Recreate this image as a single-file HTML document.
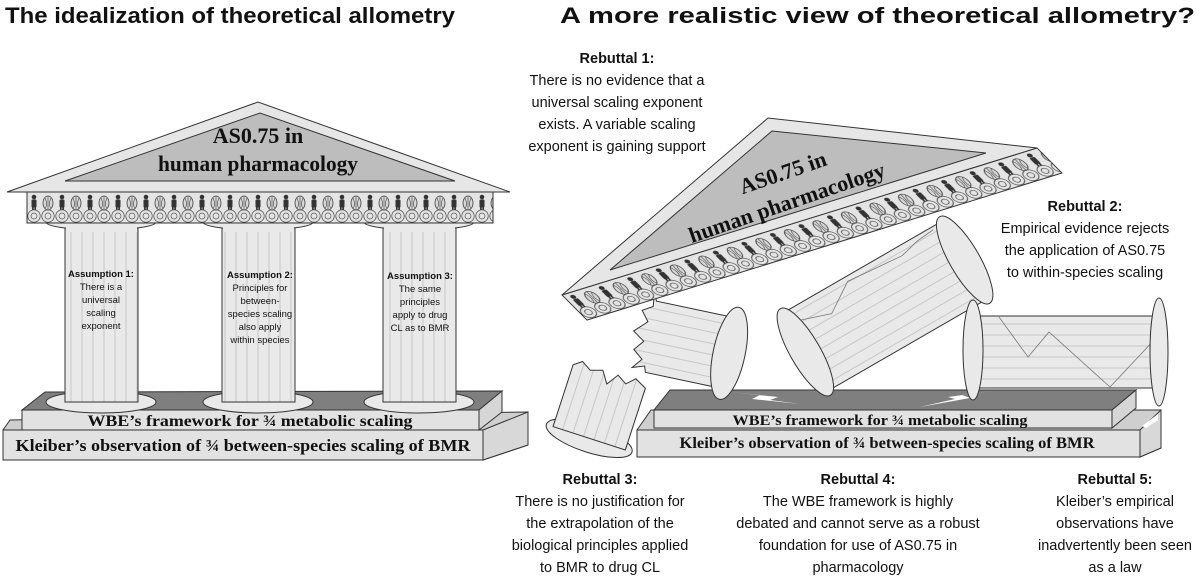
<!DOCTYPE html>
<html><head><meta charset="utf-8"><style>
html,body{margin:0;padding:0;background:#fff;}
svg{display:block;}
.t{font-family:"Liberation Sans",sans-serif;fill:#111;}
.s{font-family:"Liberation Serif",serif;font-weight:bold;fill:#111;}
</style></head><body>
<svg width="1200" height="576" viewBox="0 0 1200 576" xmlns="http://www.w3.org/2000/svg">
<defs>
<pattern id="fr" x="0" y="0" width="28" height="31" patternUnits="userSpaceOnUse">
<rect width="28" height="31" fill="#e4e4e4"/>
<circle cx="7" cy="24" r="6.2" fill="none" stroke="#555" stroke-width="0.8"/>
<circle cx="7" cy="24" r="3" fill="none" stroke="#555" stroke-width="0.7"/>
<circle cx="21" cy="24" r="6.2" fill="none" stroke="#555" stroke-width="0.8"/>
<circle cx="21" cy="24" r="3" fill="none" stroke="#555" stroke-width="0.7"/>
<circle cx="7" cy="5" r="2.3" fill="#333"/>
<rect x="4.5" y="7.5" width="5" height="8" rx="1" fill="#333"/>
<rect x="5" y="14" width="1.6" height="4" fill="#333"/><rect x="7.4" y="14" width="1.6" height="4" fill="#333"/>
<ellipse cx="21" cy="11" rx="5" ry="7" fill="#d8d8d8" stroke="#444" stroke-width="0.8"/>
<path d="M21 4 V18 M18 6 Q21 12 18 17 M24 6 Q21 12 24 17" stroke="#444" stroke-width="0.6" fill="none"/>
</pattern>
<pattern id="flute" x="0" y="0" width="11" height="10" patternUnits="userSpaceOnUse">
<rect width="11" height="10" fill="#e9e9e9"/><line x1="5" y1="0" x2="5" y2="10" stroke="#b8b8b8" stroke-width="0.7"/>
</pattern>
<pattern id="hflute" x="0" y="0" width="10" height="11" patternUnits="userSpaceOnUse">
<rect width="10" height="11" fill="#e9e9e9"/><line x1="0" y1="5" x2="10" y2="5" stroke="#b8b8b8" stroke-width="0.7"/>
</pattern>
</defs>

<!-- Titles -->
<text class="t" x="5" y="23" font-size="22" font-weight="bold" textLength="450" lengthAdjust="spacingAndGlyphs">The idealization of theoretical allometry</text>
<text class="t" x="560" y="23" font-size="22" font-weight="bold" textLength="635" lengthAdjust="spacingAndGlyphs">A more realistic view of theoretical allometry?</text>

<!-- LEFT TEMPLE -->
<!-- Kleiber slab -->
<polygon points="10,420 528,412 528,445 483,460 3,460 3,430" fill="#cfcfcf" stroke="#333" stroke-width="1"/>
<polygon points="483,430 528,412 528,445 483,460" fill="#d8d8d8" stroke="#333"/>
<rect x="3" y="430" width="480" height="30" fill="#e2e2e2" stroke="#333"/>
<text class="s" x="243" y="451" font-size="16.5" text-anchor="middle" textLength="455" lengthAdjust="spacingAndGlyphs">Kleiber’s observation of  ¾ between-species scaling of  BMR</text>
<!-- WBE slab -->
<polygon points="45,392 502,391 479,410 22,410" fill="#7f7f7f" stroke="#333"/>
<polygon points="479,410 502,391 502,412 479,430" fill="#d6d6d6" stroke="#333"/>
<rect x="22" y="410" width="457" height="20" fill="#e2e2e2" stroke="#333"/>
<text class="s" x="250" y="426" font-size="16" text-anchor="middle" textLength="325" lengthAdjust="spacingAndGlyphs">WBE’s framework for ¾ metabolic scaling</text>
<!-- Columns -->
<g stroke="#333" stroke-width="1">
<ellipse cx="101" cy="402" rx="55" ry="11" fill="#e9e9e9"/>
<rect x="65" y="218" width="73" height="184" fill="url(#flute)"/>
<ellipse cx="258" cy="402" rx="55" ry="11" fill="#e9e9e9"/>
<rect x="222" y="218" width="73" height="184" fill="url(#flute)"/>
<ellipse cx="419" cy="402" rx="55" ry="11" fill="#e9e9e9"/>
<rect x="383" y="218" width="73" height="184" fill="url(#flute)"/>
</g>
<ellipse cx="101" cy="222" rx="55" ry="8" fill="#e9e9e9" stroke="#333"/>
<ellipse cx="258" cy="222" rx="55" ry="8" fill="#e9e9e9" stroke="#333"/>
<ellipse cx="419" cy="222" rx="55" ry="8" fill="#e9e9e9" stroke="#333"/>
<rect x="66" y="226" width="71" height="6" fill="#e9e9e9"/>
<rect x="223" y="226" width="71" height="6" fill="#e9e9e9"/>
<rect x="384" y="226" width="71" height="6" fill="#e9e9e9"/>
<g class="t" font-size="9.5" text-anchor="middle">
<text x="101" y="277" font-weight="bold">Assumption 1:</text>
<text x="101" y="290">There is a</text><text x="101" y="303">universal</text><text x="101" y="316">scaling</text><text x="101" y="329">exponent</text>
<text x="260" y="278" font-weight="bold">Assumption 2:</text>
<text x="260" y="291">Principles for</text><text x="260" y="304">between-</text><text x="260" y="317">species scaling</text><text x="260" y="330">also apply</text><text x="260" y="343">within species</text>
<text x="420" y="279" font-weight="bold">Assumption 3:</text>
<text x="420" y="292">The same</text><text x="420" y="305">principles</text><text x="420" y="318">apply to drug</text><text x="420" y="331">CL as to BMR</text>
</g>
<!-- Frieze -->
<g transform="translate(27,192)"><rect x="0" y="0" width="466" height="31" fill="url(#fr)" stroke="#333"/></g>
<!-- Roof -->
<polygon points="7,192 258,102 510,192" fill="#e6e6e6" stroke="#333"/>
<polygon points="65,181 260,113 455,181" fill="#bdbdbd" stroke="#333"/>
<text class="s" x="258" y="143" font-size="22" text-anchor="middle" font-weight="bold">AS0.75 in</text>
<text class="s" x="258" y="171" font-size="22" text-anchor="middle" font-weight="bold" textLength="200" lengthAdjust="spacingAndGlyphs">human pharmacology</text>

<!-- RIGHT SIDE -->
<g class="t" font-size="14.5" text-anchor="middle">
<text x="617" y="63" font-weight="bold">Rebuttal 1:</text>
<text x="617" y="85">There is no evidence that a</text>
<text x="617" y="107">universal scaling exponent</text>
<text x="617" y="129">exists. A variable scaling</text>
<text x="617" y="151">exponent is gaining support</text>
<text x="1085" y="211" font-weight="bold">Rebuttal 2:</text>
<text x="1085" y="233">Empirical evidence rejects</text>
<text x="1085" y="255">the application of AS0.75</text>
<text x="1085" y="277">to within-species scaling</text>
<text x="600" y="484" font-weight="bold">Rebuttal 3:</text>
<text x="600" y="506">There is no justification for</text>
<text x="600" y="528">the extrapolation of the</text>
<text x="600" y="550">biological principles applied</text>
<text x="600" y="572">to BMR to drug CL</text>
<text x="858" y="484" font-weight="bold">Rebuttal 4:</text>
<text x="858" y="506">The WBE framework is highly</text>
<text x="858" y="528">debated and cannot serve as a robust</text>
<text x="858" y="550">foundation for use of AS0.75 in</text>
<text x="858" y="572">pharmacology</text>
<text x="1115" y="484" font-weight="bold">Rebuttal 5:</text>
<text x="1115" y="506">Kleiber’s empirical</text>
<text x="1115" y="528">observations have</text>
<text x="1115" y="550">inadvertently been seen</text>
<text x="1115" y="572">as a law</text>
</g>

<!-- Right platform -->
<polygon points="651,410 1161,410 1161,448 1140,457 637,457 637,430" fill="#cfcfcf" stroke="#333"/>
<polygon points="1140,430 1161,410 1161,448 1140,457" fill="#d8d8d8" stroke="#333"/>
<polygon points="1142,426 1158,414 1158,420 1146,428" fill="#fff"/>
<rect x="637" y="430" width="503" height="27" fill="#e2e2e2" stroke="#333"/>
<text class="s" x="887" y="448" font-size="16" text-anchor="middle" textLength="415" lengthAdjust="spacingAndGlyphs">Kleiber’s observation of  ¾ between-species scaling of  BMR</text>
<polygon points="670,390 1136,390 1112,410 654,410" fill="#7f7f7f" stroke="#333"/>
<polygon points="1112,410 1136,390 1136,408 1112,428" fill="#d6d6d6" stroke="#333"/>
<rect x="654" y="410" width="458" height="18" fill="#e2e2e2" stroke="#333"/>
<text class="s" x="880" y="425" font-size="15" text-anchor="middle" textLength="295" lengthAdjust="spacingAndGlyphs">WBE’s framework for ¾ metabolic scaling</text>
<!-- lightning -->
<polygon points="730,392 760,395 752,399 800,404 770,400 778,397" fill="#fff"/>
<polygon points="920,407 955,399 948,397 1000,390 962,395 970,398" fill="#fff"/>

<!-- Lower broken column -->
<g transform="translate(600,405) rotate(18)" stroke="#333">
<ellipse cx="0" cy="35" rx="45" ry="14" fill="#e9e9e9"/>
<polygon points="-38,35 -38,-30 -30,-36 -20,-30 -8,-34 0,-22 8,-34 18,-28 26,-36 38,-30 38,35" fill="url(#flute)"/>
<ellipse cx="0" cy="35" rx="45" ry="14" fill="#e9e9e9" transform="" opacity="0"/>
</g>
<!-- Upper broken column -->
<g transform="translate(690,345) rotate(12)" stroke="#333">
<polygon points="40,-36 -42,-36 -46,-46 -44,-30 -54,-24 -46,-14 -58,-2 -46,6 -54,16 -44,24 -52,34 -40,30 -38,36 40,36" fill="url(#hflute)"/>
<ellipse cx="40" cy="0" rx="16" ry="47" fill="#e9e9e9"/>
</g>
<!-- Tilted middle column -->
<g transform="translate(885,306) rotate(-30)" stroke="#333">
<rect x="-92" y="-45" width="184" height="90" fill="url(#hflute)"/>
<ellipse cx="-92" cy="0" rx="15" ry="50" fill="#e9e9e9"/>
<polyline points="-80,-30 -50,-20 -20,-40 40,-35 60,-40 80,-42" fill="none" stroke="#777" stroke-width="0.8"/>
<ellipse cx="92" cy="0" rx="15" ry="50" fill="#e9e9e9"/>
</g>
<!-- Horizontal right column -->
<g stroke="#333">
<rect x="975" y="316" width="184" height="72" fill="url(#hflute)"/>
<polyline points="999,317 1028,357 1049,332 1110,387 1157,337" fill="none" stroke="#777" stroke-width="0.8"/>
<ellipse cx="973" cy="350" rx="10" ry="50" fill="#e9e9e9"/>
<ellipse cx="1159" cy="352" rx="9" ry="54" fill="#e9e9e9"/>
</g>

<!-- Right tilted roof -->
<g transform="matrix(1.0193,-0.3155,0.8065,0.8065,562,295)">
<rect x="0" y="0" width="466" height="31" fill="url(#fr)" stroke="#333" stroke-width="1"/>
</g>
<polygon points="562,295 768,118 1037,148" fill="#e6e6e6" stroke="#333"/>
<polygon points="610,270 772,131 986,153" fill="#bdbdbd" stroke="#333"/>
<text class="s" x="783" y="180" font-size="22" text-anchor="middle" transform="rotate(-19 783 173)">AS0.75 in</text>
<text class="s" x="787" y="210" font-size="22" text-anchor="middle" transform="rotate(-19 787 203)">human pharmacology</text>
</svg>
</body></html>
